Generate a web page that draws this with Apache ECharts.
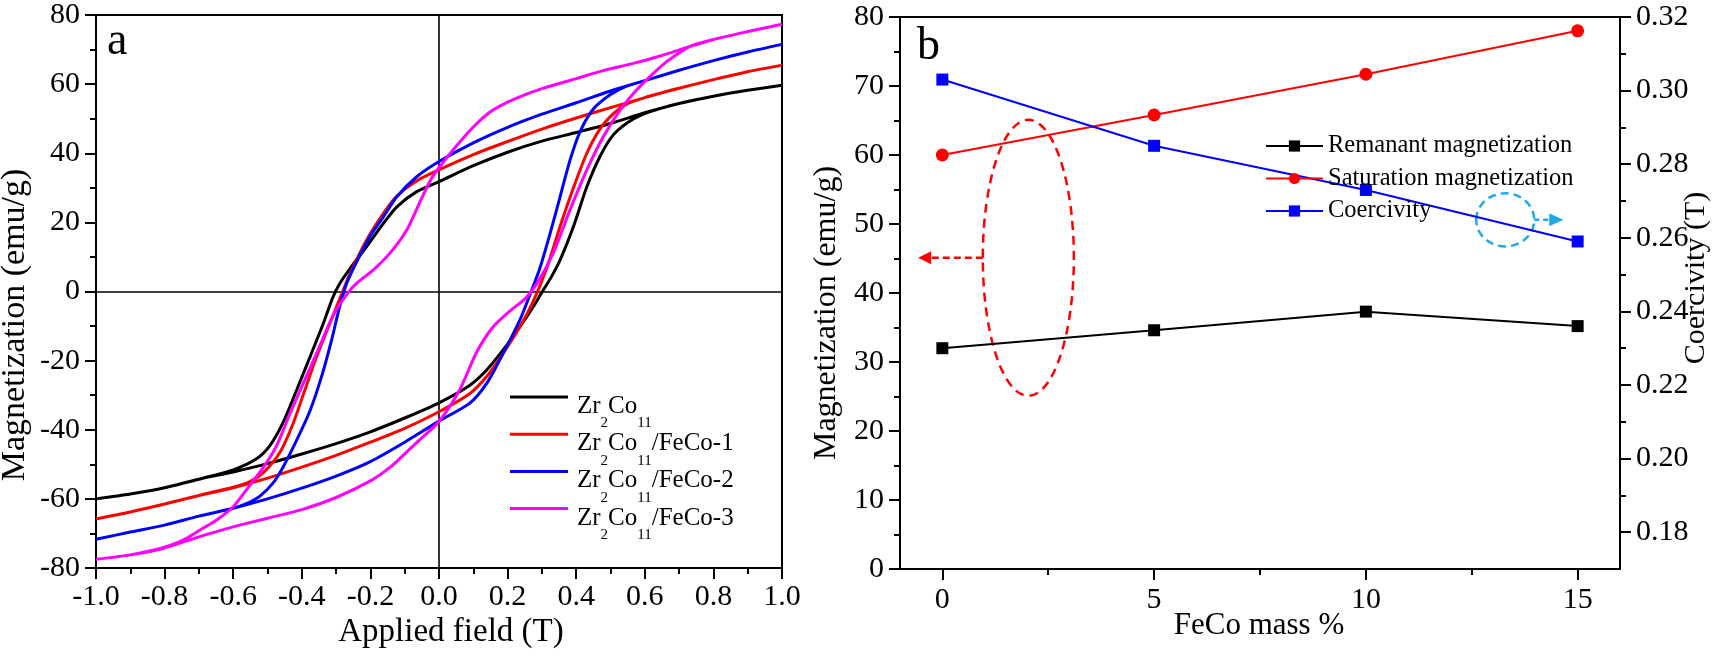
<!DOCTYPE html>
<html>
<head>
<meta charset="utf-8">
<title>Zr2Co11 / FeCo magnetic properties</title>
<script src="https://cdn.jsdelivr.net/npm/echarts@6.0.0/dist/echarts.min.js"></script>
<style>
  html, body { margin: 0; padding: 0; background: #fff; }
  #chart { width: 1715px; height: 655px; }
</style>
</head>
<body>
<div id="chart"></div>
<script>
// (a) hysteresis loops: [applied field (T), magnetization (emu/g)]
// descending branch from 1 to -1, then ascending branch back to 1
const loopZr2Co11 = [
  [1.0, 59.7], [0.9, 58.2], [0.8, 56.5], [0.7, 54.4], [0.6, 51.7], [0.5, 48.6], [0.4, 46.0],
  [0.3, 43.5], [0.2, 40.3], [0.1, 36.4], [0.0, 31.8], [-0.065, 28.9], [-0.123, 24.5],
  [-0.162, 19.7], [-0.211, 13.0], [-0.259, 6.7], [-0.29, 2.2], [-0.31, -1.8], [-0.337, -9.2],
  [-0.376, -18.9], [-0.415, -28.5], [-0.454, -37.8], [-0.493, -44.6], [-0.532, -48.4],
  [-0.6, -51.6], [-0.7, -54.3], [-0.8, -56.8], [-0.9, -58.6], [-1.0, -60.0],
  [-0.9, -58.6], [-0.8, -56.8], [-0.7, -54.3], [-0.6, -52.2], [-0.5, -49.8], [-0.4, -47.0],
  [-0.3, -44.0], [-0.2, -40.6], [-0.1, -36.6], [0.0, -32.2], [0.09, -27.1], [0.139, -22.7],
  [0.187, -16.9], [0.236, -10.2], [0.275, -4.4], [0.3, -0.2], [0.325, 3.8], [0.353, 9.1],
  [0.392, 18.8], [0.431, 30.3], [0.469, 39.0], [0.508, 45.3], [0.547, 48.7], [0.586, 50.9],
  [0.644, 52.9], [0.7, 54.4], [0.8, 56.5], [0.9, 58.2], [1.0, 59.7]
];
const loopFeCo1 = [
  [1.0, 65.5], [0.9, 63.6], [0.8, 61.3], [0.7, 58.8], [0.6, 56.1], [0.5, 53.2], [0.4, 50.2],
  [0.3, 47.0], [0.2, 43.4], [0.1, 39.6], [0.0, 35.2], [-0.065, 32.0], [-0.123, 27.6],
  [-0.162, 22.6], [-0.211, 14.9], [-0.259, 5.3], [-0.28, 0.2], [-0.318, -9.2], [-0.357, -18.9],
  [-0.391, -28.5], [-0.425, -38.1], [-0.464, -46.6], [-0.512, -52.4], [-0.551, -55.0],
  [-0.6, -56.6], [-0.7, -59.0], [-0.8, -61.5], [-0.9, -63.8], [-1.0, -65.8],
  [-0.9, -63.8], [-0.8, -61.5], [-0.7, -59.0], [-0.6, -56.8], [-0.5, -54.0], [-0.4, -50.8],
  [-0.3, -47.4], [-0.2, -43.6], [-0.1, -39.6], [0.0, -34.8], [0.09, -29.5], [0.139, -24.6],
  [0.187, -17.9], [0.236, -10.2], [0.275, -2.8], [0.314, 6.7], [0.353, 18.8], [0.392, 30.0],
  [0.431, 40.0], [0.469, 47.0], [0.508, 51.4], [0.547, 54.2], [0.6, 56.1], [0.7, 58.8],
  [0.8, 61.3], [0.9, 63.6], [1.0, 65.5]
];
const loopFeCo2 = [
  [1.0, 71.5], [0.9, 69.3], [0.8, 66.8], [0.7, 64.0], [0.6, 61.0], [0.5, 58.0], [0.4, 54.6],
  [0.3, 51.3], [0.2, 47.5], [0.1, 43.0], [0.0, 37.6], [-0.065, 33.2], [-0.123, 27.4],
  [-0.162, 21.6], [-0.201, 15.9], [-0.24, 8.6], [-0.269, 2.4], [-0.29, -4.5], [-0.313, -14.0],
  [-0.342, -24.5], [-0.376, -34.5], [-0.415, -43.0], [-0.454, -50.7], [-0.483, -55.3],
  [-0.522, -59.2], [-0.56, -61.3], [-0.6, -62.7], [-0.7, -65.0], [-0.8, -67.6], [-0.9, -69.6],
  [-1.0, -71.7],
  [-0.9, -69.6], [-0.8, -67.6], [-0.7, -65.0], [-0.6, -62.7], [-0.5, -60.0], [-0.4, -56.9],
  [-0.3, -53.4], [-0.2, -49.2], [-0.1, -43.6], [0.0, -37.5], [0.09, -32.3], [0.139, -26.6],
  [0.187, -17.9], [0.236, -8.2], [0.265, -1.0], [0.294, 6.7], [0.324, 16.8], [0.353, 27.4],
  [0.382, 38.0], [0.411, 46.2], [0.45, 52.8], [0.5, 57.0], [0.547, 59.4], [0.6, 61.0],
  [0.7, 64.0], [0.8, 66.8], [0.9, 69.3], [1.0, 71.5]
];
const loopFeCo3 = [
  [1.0, 77.3], [0.9, 75.2], [0.8, 72.9], [0.732, 70.9], [0.65, 68.3], [0.567, 66.0],
  [0.479, 63.9], [0.4, 61.6], [0.3, 58.7], [0.25, 56.9], [0.2, 54.8], [0.15, 52.0],
  [0.1, 47.6], [0.05, 42.0], [0.0, 35.8], [-0.026, 32.0], [-0.055, 26.0], [-0.094, 17.8],
  [-0.143, 11.1], [-0.192, 6.2], [-0.24, 2.4], [-0.27, -1.0], [-0.308, -6.8], [-0.357, -17.9],
  [-0.396, -26.6], [-0.434, -35.2], [-0.473, -44.5], [-0.512, -50.9], [-0.551, -56.0],
  [-0.6, -62.3], [-0.648, -66.1], [-0.697, -69.0], [-0.736, -71.4], [-0.8, -74.0],
  [-0.9, -76.2], [-1.0, -77.5],
  [-0.9, -76.2], [-0.81, -74.5], [-0.7, -71.0], [-0.6, -68.1], [-0.5, -65.6], [-0.4, -63.1],
  [-0.3, -59.6], [-0.2, -54.8], [-0.143, -50.9], [-0.1, -47.0], [-0.055, -42.8], [0.0, -37.6],
  [0.06, -28.5], [0.11, -17.5], [0.158, -10.2], [0.207, -5.6], [0.25, -2.2], [0.285, 2.2],
  [0.333, 11.1], [0.382, 23.6], [0.431, 35.2], [0.479, 44.8], [0.528, 52.5], [0.576, 58.3],
  [0.625, 63.1], [0.664, 66.5], [0.732, 70.9], [0.8, 72.9], [0.9, 75.2], [1.0, 77.3]
];
const loopNames = ['Zr2Co11', 'Zr2Co11/FeCo-1', 'Zr2Co11/FeCo-2', 'Zr2Co11/FeCo-3'];
const loopColors = ['#000000', '#ff0000', '#0000ff', '#ff00ff'];
const loops = [loopZr2Co11, loopFeCo1, loopFeCo2, loopFeCo3];

// (b) properties vs FeCo content
const feCoMass = [0, 5, 10, 15];
const remanent = [32.0, 34.6, 37.3, 35.2];
const saturation = [60.0, 65.8, 71.7, 78.0];
const coercivity = [0.303, 0.285, 0.273, 0.259];
const massTicks = [0, 5, 10, 15];
const massMinor = [2.5, 7.5, 12.5];
const coerTicks = [0.18, 0.20, 0.22, 0.24, 0.26, 0.28, 0.30, 0.32];
const coerMinor = [0.19, 0.21, 0.23, 0.25, 0.27, 0.29, 0.31];

const SERIF = '"Liberation Serif", "Times New Roman", serif';
const chart = echarts.init(document.getElementById('chart'));

// Zr2Co11/FeCo-1 -> rich text with subscripts
function richName(name) {
  const rest = name.replace('Zr2Co11', '');
  return '{f|Zr}{s|2}{n|Co}{s|11}' + (rest ? '{n|' + rest + '}' : '');
}

function axisLine() { return { show: true, onZero: false, lineStyle: { color: '#000', width: 2 } }; }
function tickLabel(fmt) {
  return { color: '#000', fontFamily: SERIF, fontSize: 30, formatter: fmt };
}
const fmt1 = v => (Math.abs(v) < 1e-9 ? '0.0' : v.toFixed(1));
const fmtInt = v => String(Math.round(v));
const fmt2 = v => v.toFixed(2);

const option = {
  animation: false,
  backgroundColor: '#fff',
  textStyle: { fontFamily: SERIF },
  grid: [
    { left: 96, top: 15, width: 686, height: 553, show: true, borderColor: '#000', borderWidth: 2,
      backgroundColor: 'transparent', outerBoundsMode: 'none', containLabel: false },
    { left: 900, top: 17, width: 720, height: 552, show: true, borderColor: '#000', borderWidth: 2,
      backgroundColor: 'transparent', outerBoundsMode: 'none', containLabel: false }
  ],
  xAxis: [
    { type: 'value', gridIndex: 0, min: -1, max: 1, interval: 0.2, position: 'bottom',
      axisLine: axisLine(),
      axisTick: { show: true, length: 11, lineStyle: { color: '#000', width: 2 } },
      minorTick: { show: true, splitNumber: 2, length: 6, lineStyle: { color: '#000', width: 2 } },
      axisLabel: Object.assign(tickLabel(fmt1), { margin: 14 }),
      splitLine: { show: false } },
    { type: 'value', gridIndex: 1, min: -1, max: 16, position: 'bottom',
      axisLine: axisLine(),
      axisTick: { show: true, length: 11, customValues: massTicks, lineStyle: { color: '#000', width: 2 } },
      axisLabel: Object.assign(tickLabel(fmtInt), { margin: 16, customValues: massTicks }),
      splitLine: { show: false } },
    { type: 'value', gridIndex: 1, min: -1, max: 16, position: 'bottom',
      axisLine: { show: false, onZero: false },
      axisTick: { show: true, length: 6, customValues: massMinor, lineStyle: { color: '#000', width: 2 } },
      axisLabel: { show: false }, splitLine: { show: false } }
  ],
  yAxis: [
    { type: 'value', gridIndex: 0, min: -80, max: 80, interval: 20, position: 'left',
      axisLine: axisLine(),
      axisTick: { show: true, length: 11, lineStyle: { color: '#000', width: 2 } },
      minorTick: { show: true, splitNumber: 2, length: 6, lineStyle: { color: '#000', width: 2 } },
      axisLabel: Object.assign(tickLabel(fmtInt), { margin: 16 }),
      splitLine: { show: false } },
    { type: 'value', gridIndex: 1, min: 0, max: 80, interval: 10, position: 'left',
      axisLine: axisLine(),
      axisTick: { show: true, length: 11, lineStyle: { color: '#000', width: 2 } },
      minorTick: { show: true, splitNumber: 2, length: 6, lineStyle: { color: '#000', width: 2 } },
      axisLabel: Object.assign(tickLabel(fmtInt), { margin: 16 }),
      splitLine: { show: false } },
    { type: 'value', gridIndex: 1, min: 0.17, max: 0.32, position: 'right',
      axisLine: axisLine(),
      axisTick: { show: true, length: 11, customValues: coerTicks, lineStyle: { color: '#000', width: 2 } },
      axisLabel: Object.assign(tickLabel(fmt2), { margin: 16, customValues: coerTicks }),
      splitLine: { show: false } },
    { type: 'value', gridIndex: 1, min: 0.17, max: 0.32, position: 'right',
      axisLine: { show: false, onZero: false },
      axisTick: { show: true, length: 6, customValues: coerMinor, lineStyle: { color: '#000', width: 2 } },
      axisLabel: { show: false }, splitLine: { show: false } }
  ],
  legend: [
    { data: loopNames, orient: 'vertical', left: 510, top: 382, padding: 0, icon: 'rect',
      itemWidth: 58, itemHeight: 3, itemGap: -11.8,
      formatter: richName,
      textStyle: {
        color: '#000', fontFamily: SERIF,
        rich: {
          f: { fontSize: 25, fontFamily: SERIF, color: '#000', lineHeight: 30, padding: [12, 0, 0, 4], verticalAlign: 'top' },
          n: { fontSize: 25, fontFamily: SERIF, color: '#000', lineHeight: 30, padding: [12, 0, 0, 0], verticalAlign: 'top' },
          s: { fontSize: 15, fontFamily: SERIF, color: '#000', lineHeight: 16, padding: [34, 0, 0, 0], verticalAlign: 'top' }
        }
      } },
    { data: ['Remanant magnetization', 'Saturation magnetization', 'Coercivity'],
      orient: 'vertical', left: 1265, top: 132, padding: 0, itemWidth: 57, itemHeight: 14, itemGap: 4.5,
      textStyle: { color: '#000', fontFamily: SERIF, fontSize: 24.5, lineHeight: 28 } }
  ],
  series: loops.map((pts, i) => {
    const s = {
      name: loopNames[i], type: 'line', xAxisIndex: 0, yAxisIndex: 0,
      data: pts, symbol: 'none', smooth: 0.25,
      lineStyle: { color: loopColors[i], width: 3 },
      itemStyle: { color: loopColors[i] },
      z: 3
    };
    if (i === 0) {
      s.markLine = {
        silent: true, symbol: ['none', 'none'], label: { show: false },
        lineStyle: { color: '#000', width: 1.6, type: 'solid' },
        data: [{ xAxis: 0 }, { yAxis: 0 }],
        z: 1
      };
    }
    return s;
  }).concat([
    { name: 'Remanant magnetization', type: 'line', xAxisIndex: 1, yAxisIndex: 1,
      data: feCoMass.map((m, i) => [m, remanent[i]]),
      symbol: 'rect', symbolSize: 12,
      lineStyle: { color: '#000', width: 2 }, itemStyle: { color: '#000' } },
    { name: 'Saturation magnetization', type: 'line', xAxisIndex: 1, yAxisIndex: 1,
      data: feCoMass.map((m, i) => [m, saturation[i]]),
      symbol: 'circle', symbolSize: 13,
      lineStyle: { color: '#ff0000', width: 2 }, itemStyle: { color: '#ff0000' } },
    { name: 'Coercivity', type: 'line', xAxisIndex: 1, yAxisIndex: 2,
      data: feCoMass.map((m, i) => [m, coercivity[i]]),
      symbol: 'rect', symbolSize: 12,
      lineStyle: { color: '#0000ff', width: 2 }, itemStyle: { color: '#0000ff' } }
  ])
};

chart.setOption(option);

// axis titles and panel letters
function title(text, x, y, size, rotated) {
  return { type: 'text', x: x, y: y, rotation: rotated ? Math.PI / 2 : 0, silent: true,
    style: { text: text, fill: '#000', font: size + 'px ' + SERIF, align: 'center', verticalAlign: 'middle' } };
}

// annotation marks for panel b, placed in data space of the left axis
const toPx = (x, y) => chart.convertToPixel({ xAxisIndex: 1, yAxisIndex: 1 }, [x, y]);
const redC = toPx(2.03, 45.1), redR = toPx(3.105, 65.1), redTip = toPx(-0.57, 45.1);
const cyC = toPx(13.29, 50.6), cyR = toPx(13.975, 54.45), cyTip = toPx(14.66, 50.6);
const redRx = redR[0] - redC[0], redRy = redC[1] - redR[1];
const cyRx = cyR[0] - cyC[0], cyRy = cyC[1] - cyR[1];
const RED = '#ff0000', CYAN = '#1ea8e6';

chart.setOption({
  graphic: [
    title('Applied field (T)', 451, 632, 33, false),
    title('Magnetization (emu/g)', 15, 325, 34, true),
    title('FeCo mass %', 1259, 626, 31, false),
    title('Magnetization (emu/g)', 827, 313, 32, true),
    title('Coercivity (T)', 1696, 278, 30, true),
    { type: 'text', x: 107, y: 65, silent: true,
      style: { text: 'a', fill: '#000', font: '46px ' + SERIF, verticalAlign: 'bottom' } },
    { type: 'text', x: 917, y: 70, silent: true,
      style: { text: 'b', fill: '#000', font: '46px ' + SERIF, verticalAlign: 'bottom' } },
    { type: 'ellipse', silent: true,
      shape: { cx: redC[0], cy: redC[1], rx: redRx, ry: redRy },
      style: { fill: 'none', stroke: RED, lineWidth: 2.5, lineDash: [9, 6] } },
    { type: 'line', silent: true,
      shape: { x1: redC[0] - redRx, y1: redC[1], x2: redTip[0] + 12, y2: redC[1] },
      style: { stroke: RED, lineWidth: 2.5, lineDash: [7, 4] } },
    { type: 'polygon', silent: true,
      shape: { points: [[redTip[0], redC[1]], [redTip[0] + 13, redC[1] - 6.5], [redTip[0] + 13, redC[1] + 6.5]] },
      style: { fill: RED } },
    { type: 'ellipse', silent: true,
      shape: { cx: cyC[0], cy: cyC[1], rx: cyRx, ry: cyRy },
      style: { fill: 'none', stroke: CYAN, lineWidth: 2.5, lineDash: [8, 5] } },
    { type: 'line', silent: true,
      shape: { x1: cyC[0] + cyRx, y1: cyC[1], x2: cyTip[0] - 13, y2: cyC[1] },
      style: { stroke: CYAN, lineWidth: 2.5, lineDash: [5, 4] } },
    { type: 'polygon', silent: true,
      shape: { points: [[cyTip[0], cyC[1]], [cyTip[0] - 14, cyC[1] - 6.5], [cyTip[0] - 14, cyC[1] + 6.5]] },
      style: { fill: CYAN } }
  ]
});
</script>
</body>
</html>
